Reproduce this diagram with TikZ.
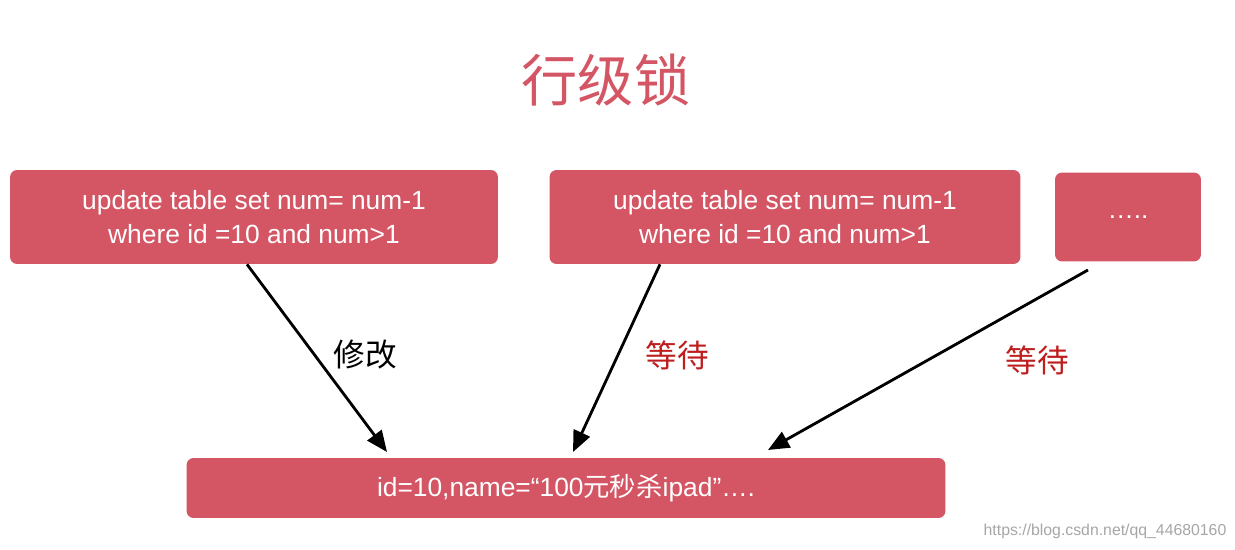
\documentclass[tikz,border=0pt]{standalone}
\usepackage{fontspec}
\setmainfont{Liberation Sans}
\newfontfamily\cjk{Noto Sans CJK SC}
\usetikzlibrary{arrows.meta}
\definecolor{boxred}{RGB}{212,86,100}
\definecolor{labred}{RGB}{190,30,30}
\tikzset{
  sqlbox/.style={fill=boxred,rounded corners=4pt,text=white,align=center,
    font=\fontsize{15}{19}\selectfont,inner sep=0pt},
  lockarrow/.style={line width=1.6pt,-{Triangle[length=12pt,width=10pt]}}
}
\begin{document}
\begin{tikzpicture}[x=0.02cm,y=-0.02cm]
  \useasboundingbox (0,0) rectangle (1235,550);
  % title
  \node[text=boxred,font=\cjk\fontsize{32}{36}\selectfont] (title) at (606,80) {行级锁};
  % transactions
  \node[sqlbox,minimum width=9.76cm,minimum height=1.88cm] (t1) at (254,217)
    {update table set num= num-1\\where id =10 and num>1};
  \node[sqlbox,minimum width=9.42cm,minimum height=1.88cm] (t2) at (785,217)
    {update table set num= num-1\\where id =10 and num>1};
  \node[sqlbox,minimum width=2.92cm,minimum height=1.78cm] (t3) at (1128,217) {…..};
  % row
  \node[sqlbox,minimum width=15.18cm,minimum height=1.2cm] (row) at (566,488)
    {id=10,name=“100{\cjk 元秒杀}ipad”….};
  % arrows
  \coordinate (a1) at (387,452);
  \coordinate (a2) at (573,452);
  \coordinate (a3) at (768,450);
  \draw[lockarrow] (t1.south -| 247,0) -- (a1);
  \draw[lockarrow] (t2.south -| 660,0) -- (a2);
  \draw[lockarrow] (1088,270) -- (a3);
  \node[font=\cjk\fontsize{18}{20}\selectfont] (m1) at (365,355) {修改};
  \node[font=\cjk\fontsize{18}{20}\selectfont,text=labred] (m2) at (677,355) {等待};
  \node[font=\cjk\fontsize{18}{20}\selectfont,text=labred] (m3) at (1037,360) {等待};
  % watermark
  \node[text=gray!70,font=\fontsize{9}{10}\selectfont] (wm) at (1105,531) {https://blog.csdn.net/qq\_44680160};
\end{tikzpicture}
\end{document}
